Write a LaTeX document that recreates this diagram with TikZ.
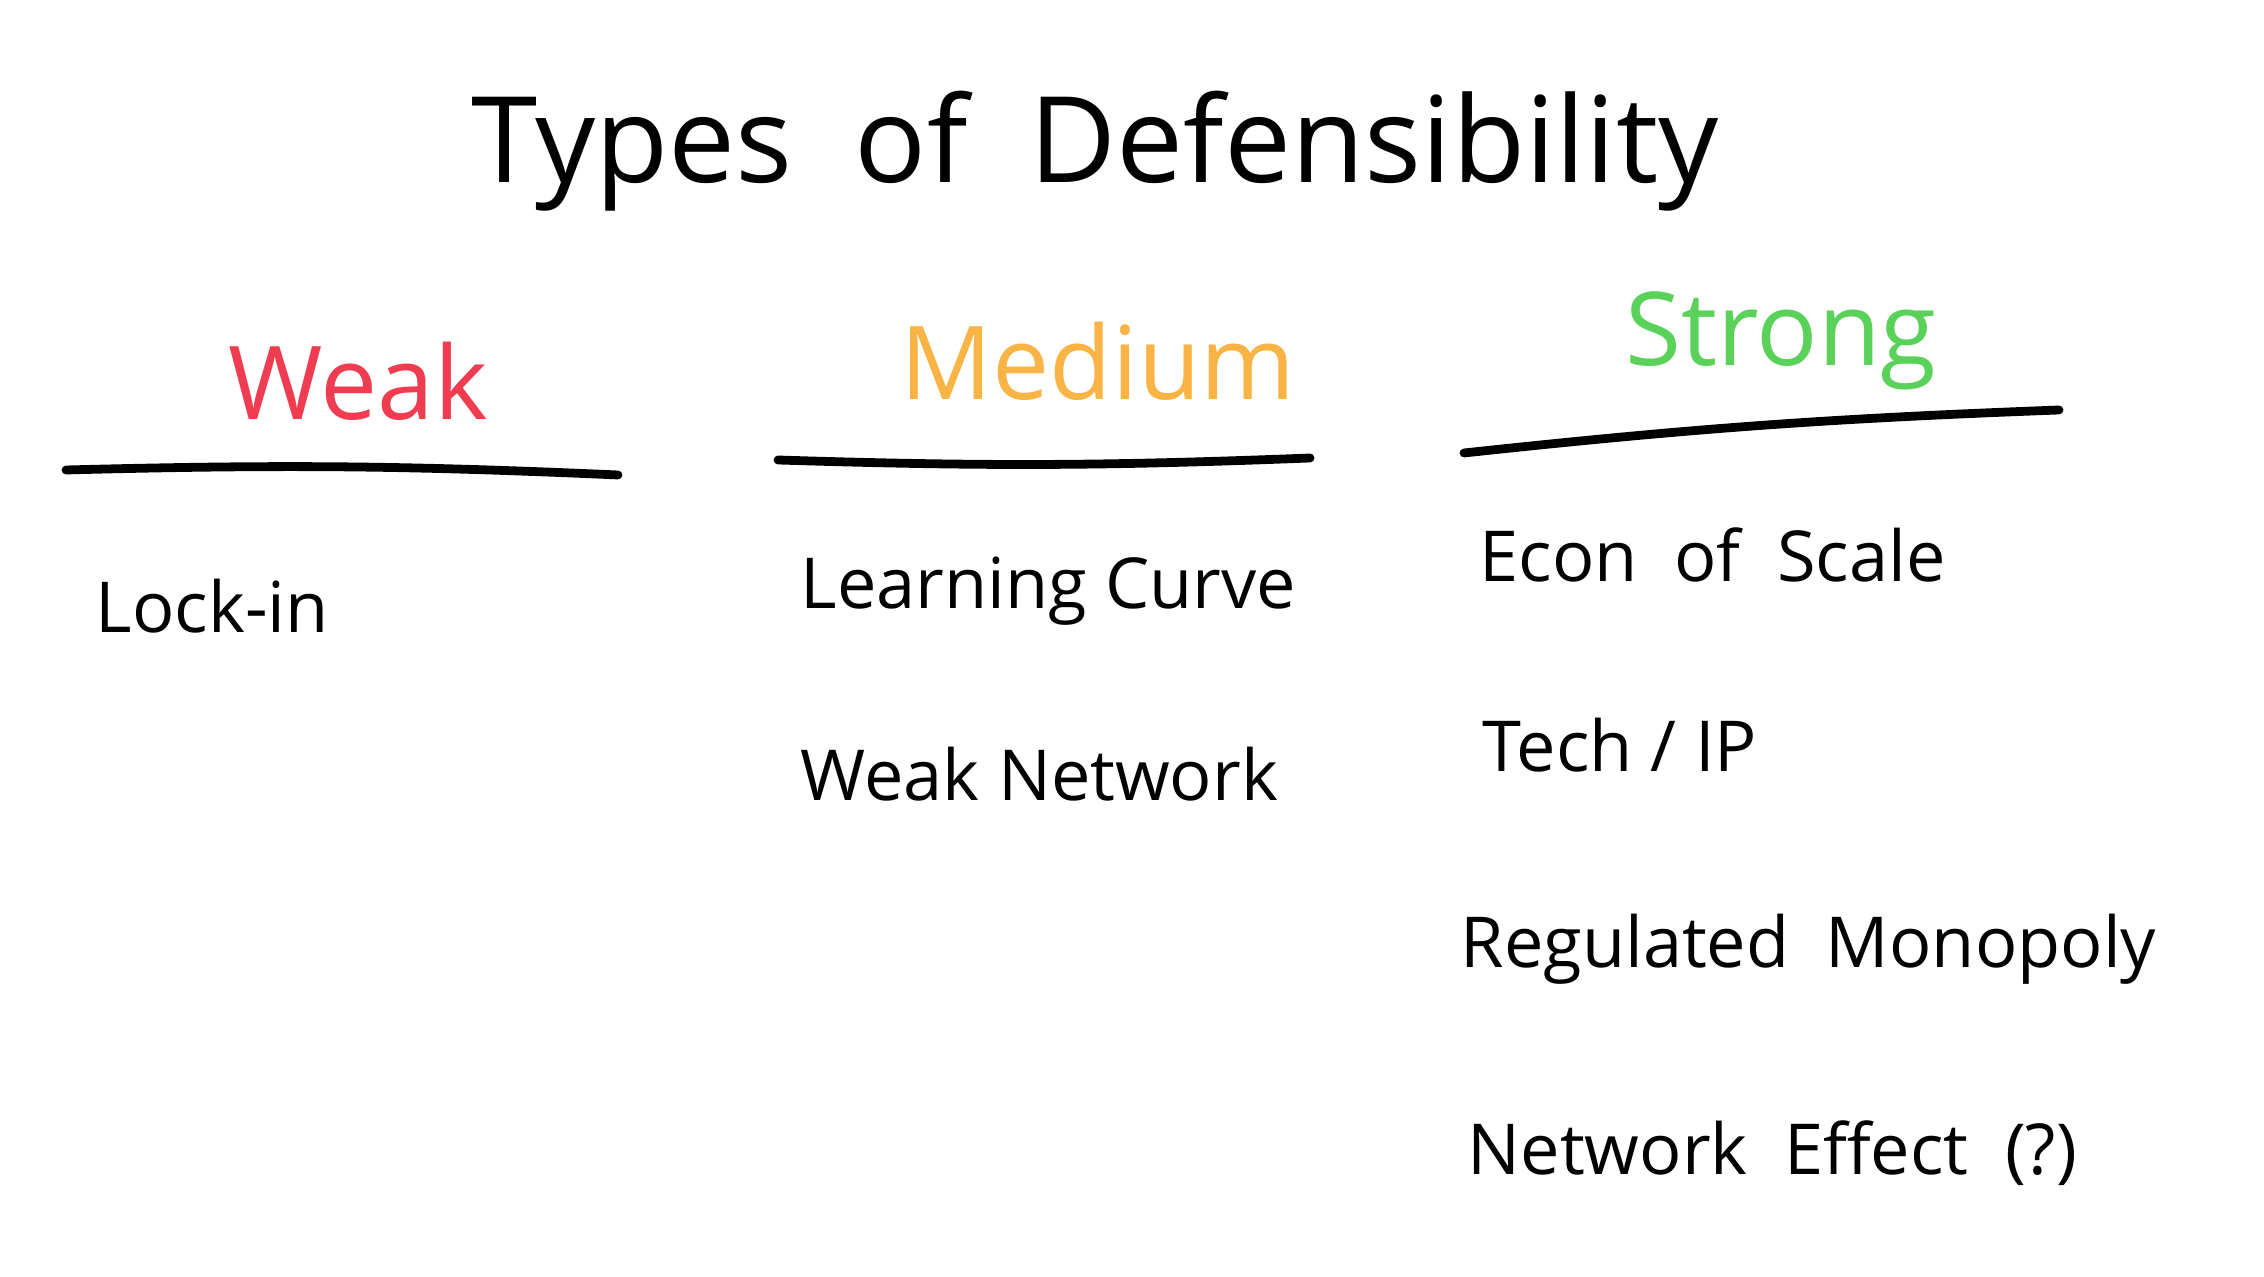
\documentclass[tikz,border=0pt]{standalone}
\usepackage{fontspec}
\setmainfont{Open Sans}
\definecolor{wred}{RGB}{240,60,80}
\definecolor{morange}{RGB}{250,180,70}
\definecolor{sgreen}{RGB}{90,210,90}
\begin{document}
\begin{tikzpicture}
\useasboundingbox[fill=white] (0,0) rectangle (22.64,12.76);
\tikzset{head/.style={font=\fontsize{29}{34}\selectfont},
 item/.style={anchor=west,inner sep=0pt,font=\fontsize{20}{24}\selectfont},
 rule/.style={line width=2.5pt,line cap=round}}
\node[font=\fontsize{34}{40}\selectfont] (title) at (10.95,11.25) {Types \ of \ Defensibility};
\node[head,text=wred] (weak) at (3.58,8.95) {Weak};
\node[head,text=morange] (medium) at (10.98,9.15) {Medium};
\node[head,text=sgreen] (strong) at (17.81,9.35) {Strong};
\coordinate (w1) at (0.66,8.06); \coordinate (w2) at (6.18,8.01);
\coordinate (m1) at (7.78,8.16); \coordinate (m2) at (13.10,8.18);
\coordinate (s1) at (14.64,8.23); \coordinate (s2) at (20.59,8.66);
\draw[rule] (w1) to[bend left=2] (w2);
\draw[rule] (m1) to[bend right=2] (m2);
\draw[rule] (s1) to[bend left=2] (s2);
\node[item] (lock) at (0.95,6.70) {Lock-in};
\node[item] (lc) at (8.0,6.85) {Learning Curve};
\node[item] (wn) at (8.0,5.02) {Weak Network};
\node[item] (eos) at (14.79,7.21) {Econ \ of \ Scale};
\node[item] (tip) at (14.82,5.31) {Tech / IP};
\node[item] (rm) at (14.60,3.27) {Regulated \ Monopoly};
\node[item] (ne) at (14.67,1.23) {Network \ Effect \ (?)};
\end{tikzpicture}
\end{document}
